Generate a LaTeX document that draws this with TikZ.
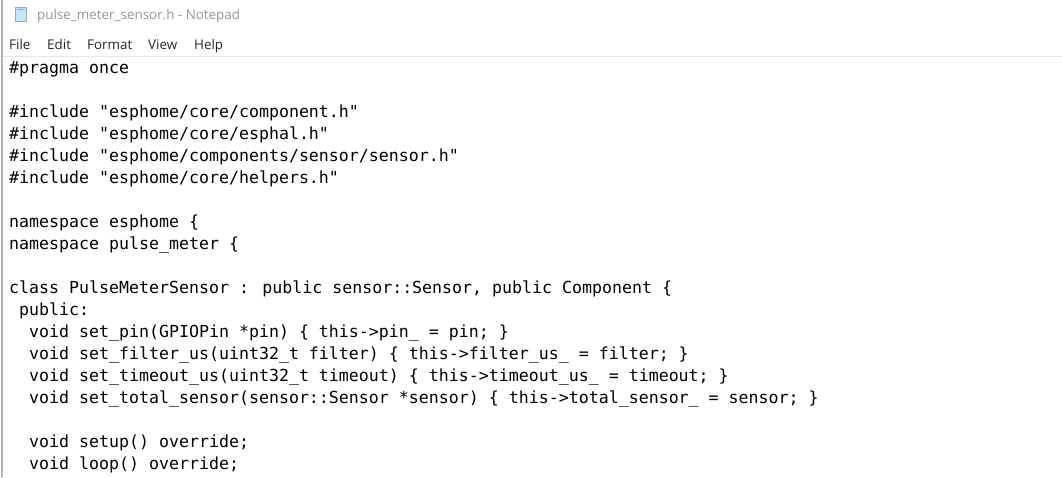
\documentclass[tikz,border=0pt]{standalone}
\usepackage{fontspec}
\newfontfamily\codefont{DejaVu Sans Mono}
\newfontfamily\uifont{Open Sans}
\definecolor{titlegray}{RGB}{150,150,150}
\definecolor{sepgray}{RGB}{230,230,230}
\begin{document}
\begin{tikzpicture}[x=1pt,y=-1pt,
  code/.style={anchor=base west,inner sep=0pt,font=\codefont\fontsize{16.6}{20}\selectfont},
  ui/.style={anchor=base west,inner sep=0pt,font=\uifont\fontsize{13.4}{16}\selectfont}]
\fill[white] (0,0) rectangle (1062,477);
\useasboundingbox (0,0) rectangle (1062,477);
\fill[sepgray] (0,56) rectangle (1062,57);
\draw[gray!60,line width=1.5pt] (2,0) -- (2,477);
% icon
\node[draw=gray!70,fill=cyan!25,minimum width=11pt,minimum height=14pt,inner sep=0pt] (icon) at (21,14) {};
\draw[blue!40,line width=0.6pt] (icon.north west) ++(1.5,2) -- ++(8,0);
\node[ui,text=titlegray] (title) at (37,19) {pulse\_meter\_sensor.h - Notepad};
\node[ui,text=black!85] (mfile) at (9,49) {File};
\node[ui,text=black!85] (medit) at (47,49) {Edit};
\node[ui,text=black!85] (mformat) at (87,49) {Format};
\node[ui,text=black!85] (mview) at (148,49) {View};
\node[ui,text=black!85] (mhelp) at (194,49) {Help};
\foreach \i/\t in {
0/{\#pragma once},
2/{\#include "esphome/core/component.h"},
3/{\#include "esphome/core/esphal.h"},
4/{\#include "esphome/components/sensor/sensor.h"},
5/{\#include "esphome/core/helpers.h"},
7/{namespace esphome \{},
8/{namespace pulse\_meter \{},
10/{class PulseMeterSensor : public sensor::Sensor, public Component \{},
11/{\ public:},
12/{\ \ void set\_pin(GPIOPin *pin) \{ this->pin\_ = pin; \}},
13/{\ \ void set\_filter\_us(uint32\_t filter) \{ this->filter\_us\_ = filter; \}},
14/{\ \ void set\_timeout\_us(uint32\_t timeout) \{ this->timeout\_us\_ = timeout; \}},
15/{\ \ void set\_total\_sensor(sensor::Sensor *sensor) \{ this->total\_sensor\_ = sensor; \}},
17/{\ \ void setup() override;},
18/{\ \ void loop() override;}}
  \node[code] (l\i) at (9,{73+22*\i}) {\t};
\end{tikzpicture}
\end{document}
